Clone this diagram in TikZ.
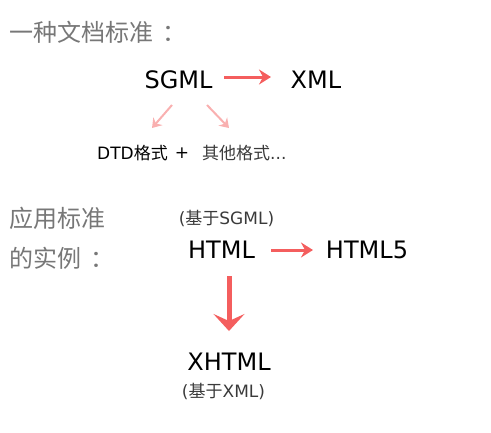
\documentclass[tikz,border=0pt]{standalone}
\usepackage{fontspec}
\setmainfont{DejaVu Sans}
\newfontfamily\cjk{Noto Sans CJK SC}
\usetikzlibrary{arrows.meta}
\definecolor{arrred}{HTML}{F45E5E}
\definecolor{arrpink}{HTML}{F9B0B0}
\definecolor{labgray}{HTML}{777777}
\definecolor{subgray}{HTML}{3A3A3A}
\begin{document}
\begin{tikzpicture}[x=1pt,y=-1pt,
  every node/.style={inner sep=0pt},
  heading/.style={font=\cjk\fontsize{24}{27}\selectfont, text=labgray, anchor=west},
  term/.style={font=\fontsize{24}{28}\selectfont, text=black},
  note/.style={font=\fontsize{17}{20}\selectfont, text=subgray},
  small/.style={font=\fontsize{17}{20}\selectfont, text=black},
  redarrow/.style={draw=arrred, line width=3pt, -{Stealth[length=12pt,width=15pt,inset=4pt]}},
  pinkarrow/.style={draw=arrpink, line width=2pt, -{Stealth[length=9pt,width=12pt,inset=3pt]}},
  bigarrow/.style={draw=arrred, line width=5pt, -{Stealth[length=17pt,width=31pt,inset=7pt]}}
]
\useasboundingbox (0,0) rectangle (491,432);

\node[heading] (h1) at (9,32) {一种文档标准\kern9pt：};
\node[term] (sgml) at (178.5,80) {SGML};
\node[term] (xml) at (316,80) {XML};
\node[small, anchor=west] (dtd) at (97,153) {DTD{\cjk 格式}};
\node[small] (plus) at (182,153) {+};
\node[small, text=subgray, anchor=west] (other) at (202,153) {{\cjk 其他格式}...};
\coordinate (a1s) at (224,77);
\coordinate (a1e) at (271,77);
\coordinate (p1s) at (172,105);
\coordinate (p1e) at (152,128);
\coordinate (p2s) at (207,105);
\coordinate (p2e) at (229,128);
\draw[redarrow] (a1s) -- (a1e);
\draw[pinkarrow] (p1s) -- (p1e);
\draw[pinkarrow] (p2s) -- (p2e);

\node[heading] (h2) at (9,218) {应用标准};
\node[heading] (h3) at (9,258) {的实例\kern9pt：};
\node[note] (basesgml) at (226.5,218) {({\cjk 基于}SGML)};
\node[term] (html) at (221.5,250) {HTML};
\node[term] (html5) at (367,250) {HTML5};
\node[term] (xhtml) at (229,362) {XHTML};
\node[note] (basexml) at (223.5,391) {({\cjk 基于}XML)};

\coordinate (a2s) at (271,250);
\coordinate (a2e) at (313,250);
\draw[redarrow] (a2s) -- (a2e);
\coordinate (dstart) at (229,276);
\coordinate (dend) at (229,331);
\draw[bigarrow] (dstart) -- (dend);
\end{tikzpicture}
\end{document}
